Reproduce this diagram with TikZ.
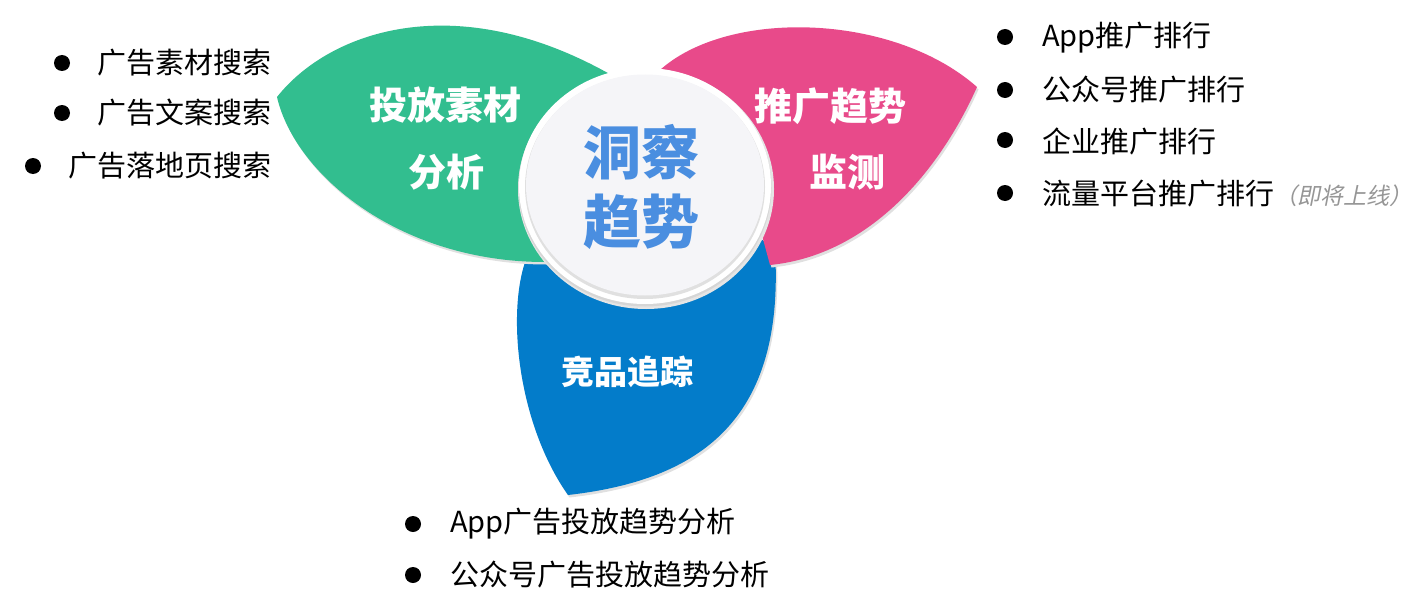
\documentclass[tikz,border=0pt]{standalone}
\usepackage{fontspec}
\setmainfont{Noto Sans CJK SC}
\newfontfamily\slantcjk[FakeSlant=0.2]{Noto Sans CJK SC}
\definecolor{leafgreen}{RGB}{50,190,143}
\definecolor{leafpink}{RGB}{232,74,138}
\definecolor{leafblue}{RGB}{3,124,202}
\definecolor{centerblue}{RGB}{74,142,224}
\definecolor{centerfill}{RGB}{245,245,248}
\definecolor{softgray}{RGB}{150,150,150}
\tikzset{
  leafshade/.style={preaction={fill=black!12, transform canvas={xshift=1.5pt, yshift=-2.5pt}}},
  leaflabel/.style={text=white, inner sep=0pt, font=\fontsize{38}{40}\selectfont\bfseries},
  smalllabel/.style={text=white, inner sep=0pt, font=\fontsize{33}{36}\selectfont\bfseries},
  listitem/.style={anchor=west, inner sep=0pt, text=black, font=\fontsize{29}{32}\selectfont},
  dotmark/.style={circle, fill=black, minimum size=16pt, inner sep=0pt},
  coretext/.style={text=centerblue, align=center, inner sep=0pt, font=\fontsize{58}{69}\selectfont\bfseries}
}
\begin{document}
\begin{tikzpicture}[x=1pt,y=-1pt]
\useasboundingbox (0,0) rectangle (1424,610);
\fill[white] (0,0) rectangle (1424,610);

% blue leaf (bottom)
\fill[leafblue, leafshade] (530,250) .. controls (505,300) and (515,420) .. (568,495)
  .. controls (700,480) and (785,420) .. (775,250) -- (700,190) -- (590,190) -- cycle;
% green leaf (left)
\fill[leafgreen, leafshade] (277,97) .. controls (330,30) and (460,-15) .. (620,80)
  -- (640,180) -- (545,262) .. controls (400,262) and (295,175) .. (277,97) -- cycle;
% pink leaf (right)
\fill[leafpink, leafshade] (652,78) .. controls (715,8) and (890,10) .. (977,87)
  .. controls (940,170) and (870,255) .. (770,265) -- (760,228) -- (660,180) -- cycle;

% centre disc
\fill[black!10] (646,189) ellipse [x radius=128pt, y radius=120pt];
\fill[black!16] (645,188) ellipse [x radius=126.5pt, y radius=118.5pt];
\fill[white] (645,186) ellipse [x radius=126pt, y radius=118pt];
\fill[black!12] (645,187) ellipse [x radius=120pt, y radius=112pt];
\fill[centerfill] (645,185) ellipse [x radius=119pt, y radius=110.5pt];

\node[coretext] (core) at (641,187) {洞察\\趋势};

\node[leaflabel] (g1) at (445,105) {投放素材};
\node[leaflabel] (g2) at (446,172) {分析};
\node[leaflabel] (p1) at (830,106) {推广趋势};
\node[leaflabel] (p2) at (847,172) {监测};
\node[smalllabel] (b0) at (627,372) {竞品追踪};

% left list
\node[dotmark] (ld1) at (62,63) {};
\node[listitem] (lt1) at (97,63) {广告素材搜索};
\node[dotmark] (ld2) at (62,113) {};
\node[listitem] (lt2) at (97,113) {广告文案搜索};
\node[dotmark] (ld3) at (33,166) {};
\node[listitem] (lt3) at (68,166) {广告落地页搜索};

% right list
\node[dotmark] (rd1) at (1005,37) {};
\node[listitem] (rt1) at (1042,38) {App推广排行};
\node[dotmark] (rd2) at (1005,90) {};
\node[listitem] (rt2) at (1042,90) {公众号推广排行};
\node[dotmark] (rd3) at (1005,140) {};
\node[listitem] (rt3) at (1042,141) {企业推广排行};
\node[dotmark] (rd4) at (1005,193) {};
\node[listitem] (rt4) at (1042,194) {流量平台推广排行{\slantcjk\fontsize{23}{25}\selectfont\color{softgray}（即将上线）}};

% bottom list
\node[dotmark] (bd1) at (413,524) {};
\node[listitem] (bt1) at (450,524) {App广告投放趋势分析};
\node[dotmark] (bd2) at (413,575) {};
\node[listitem] (bt2) at (450,575) {公众号广告投放趋势分析};
\end{tikzpicture}
\end{document}
